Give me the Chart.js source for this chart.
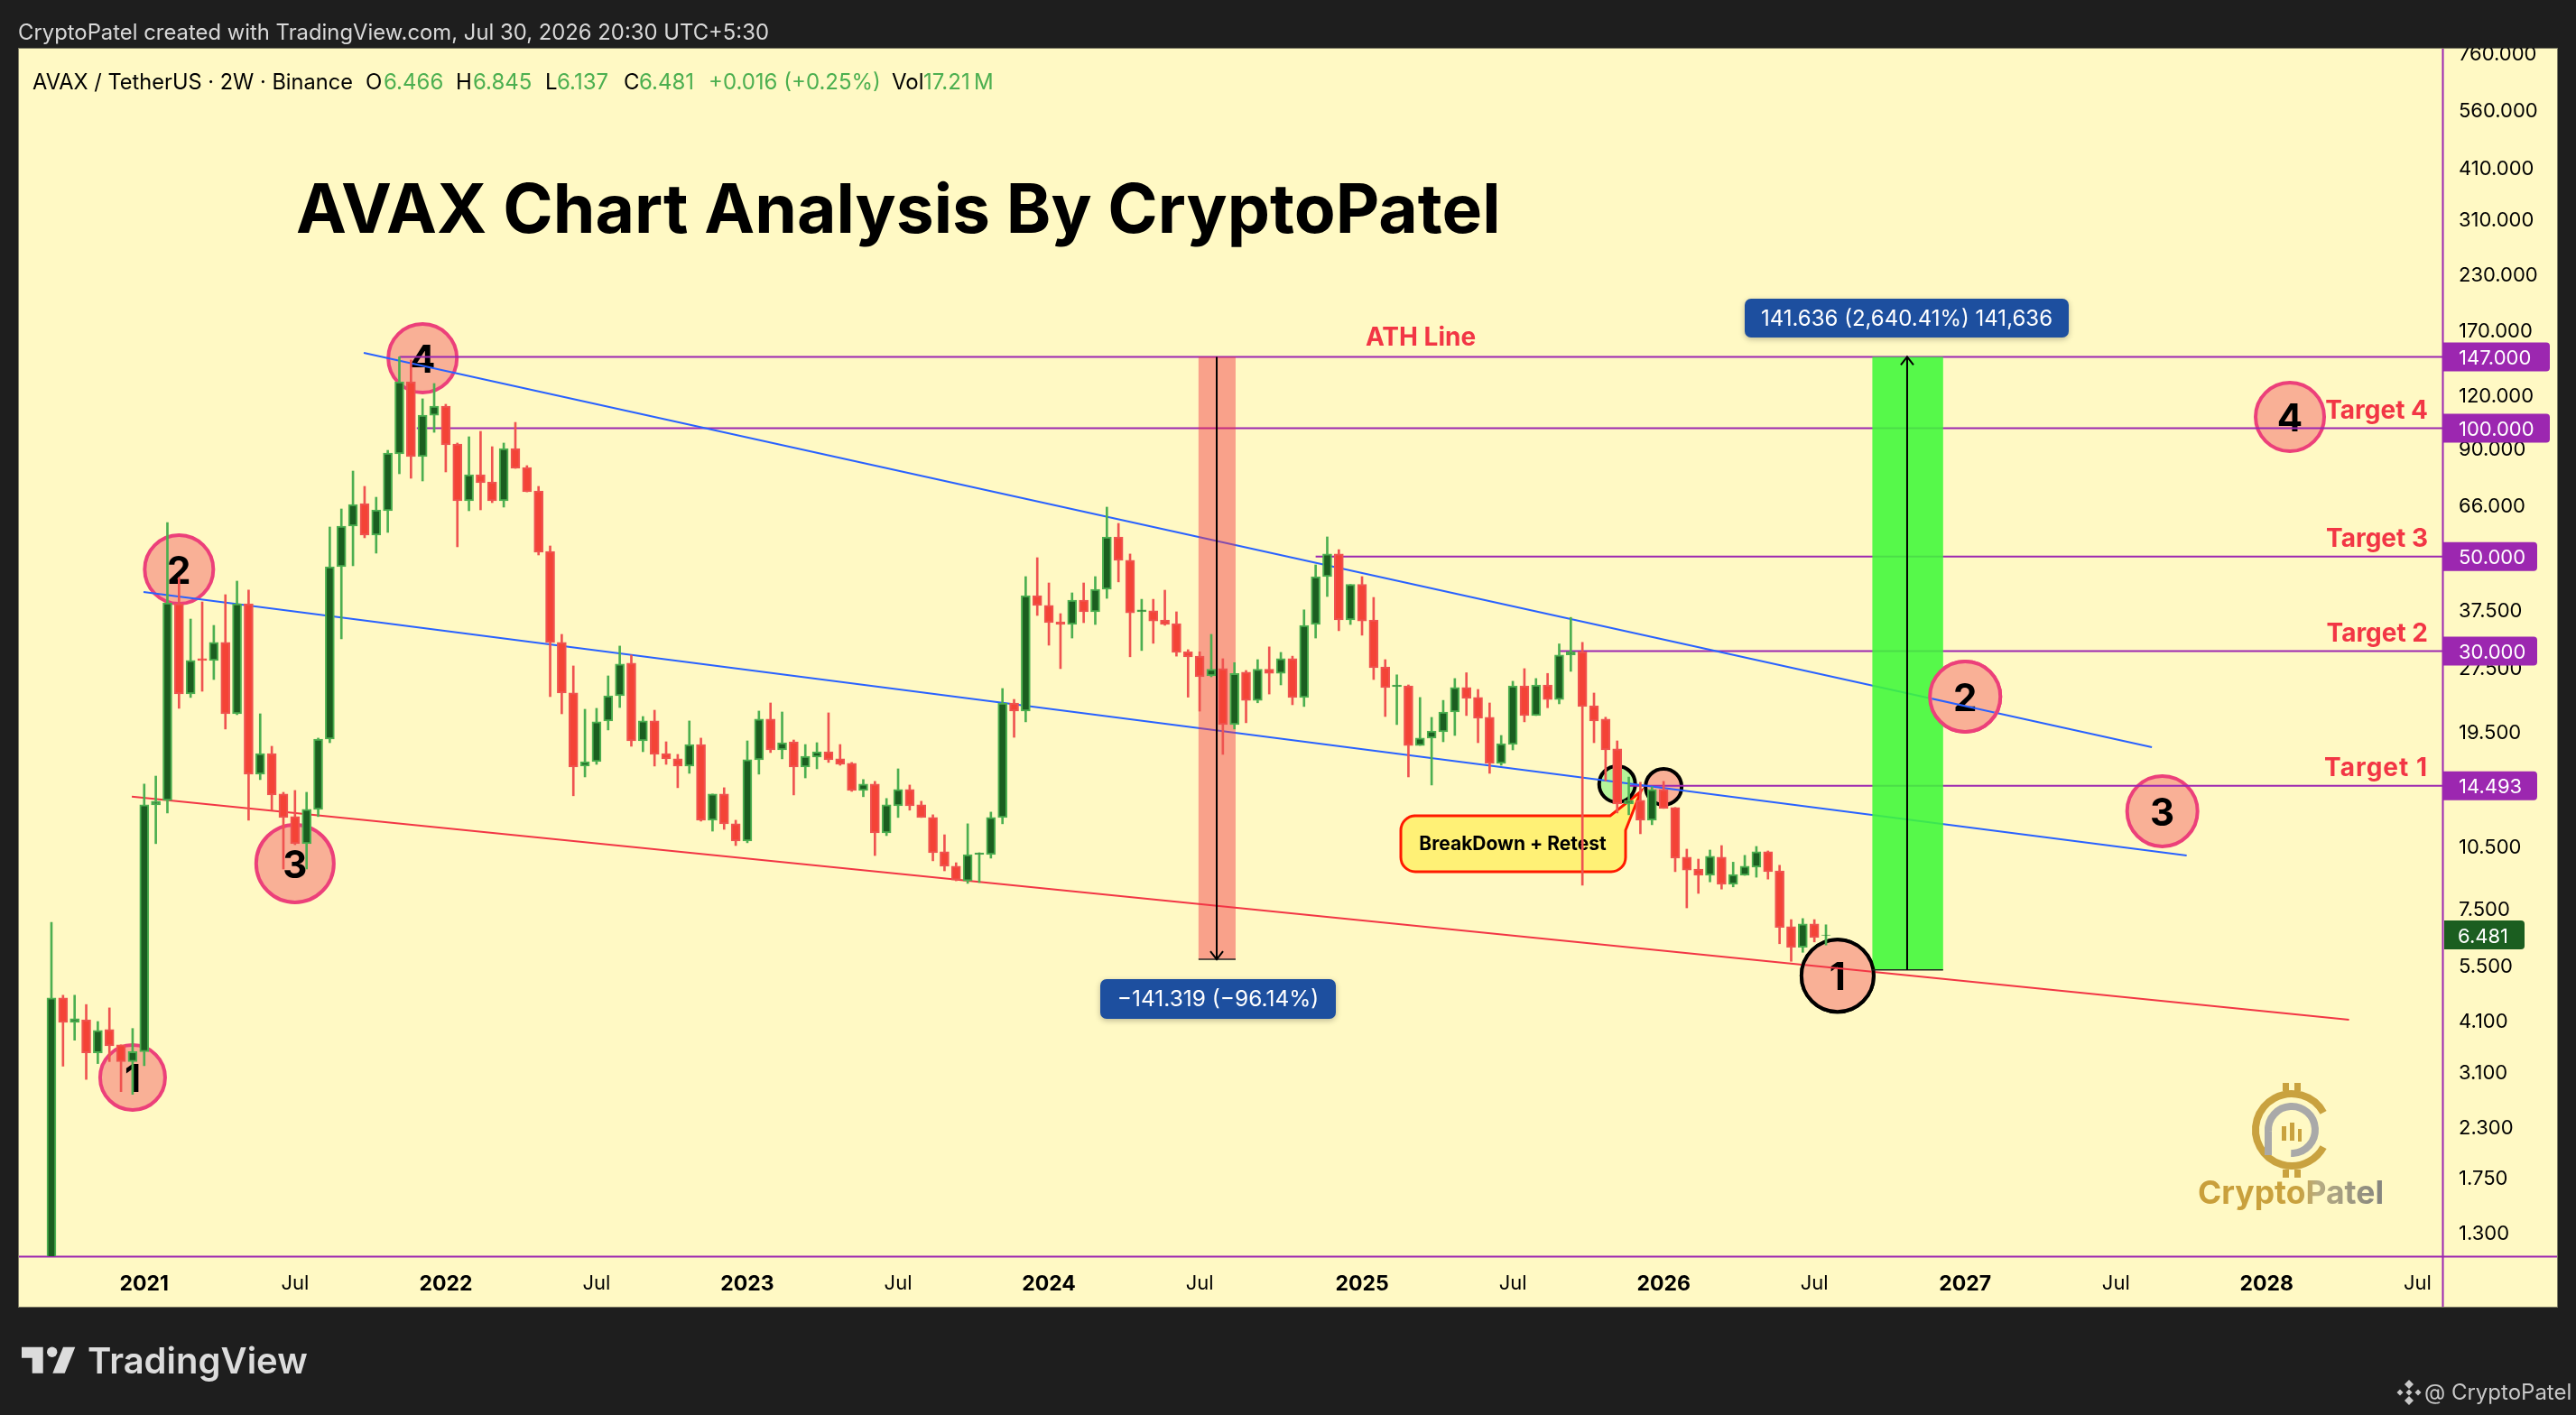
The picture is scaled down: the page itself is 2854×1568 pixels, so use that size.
<!DOCTYPE html>
<html>
<head>
<meta charset="utf-8">
<style>html,body{margin:0;padding:0;background:#1e1e1e}canvas{display:block}</style>
<script src="https://cdn.jsdelivr.net/npm/chart.js@4"></script>
</head>
<body>
<canvas id="c" width="2854" height="1568"></canvas>
<script>
const opens=[1.0,4.61,4.04,4.10,3.43,3.89,3.58,3.27,3.45,13.08,
13.40,38.76,23.81,28.8,28.52,31.44,21.39,38.76,15.44,17.26,
13.87,12.28,10.61,12.77,18.66,47.34,58.94,66.58,56.14,64.03,
87.04,128.5,85.78,107.3,112.7,91.8,67.55,77.81,74.84,67.55,
89.6,80.9,71.28,51.43,31.44,23.93,16.13,16.52,20.58,23.58,
28.11,18.48,20.58,17.26,16.77,16.13,18.12,12.04,13.87,11.81,
10.76,16.69,20.78,17.6,18.39,16.05,16.93,17.43,16.77,16.37,
14.14,14.63,11.24,13.02,14.21,13.08,12.22,10.15,9.39,8.68,
10.0,10.0,12.22,22.68,21.71,40.5,38.4,35.16,34.65,39.5,
37.1,41.9,55.6,49.0,37.1,37.3,35.5,34.8,29.9,29.2,
26.25,27.3,20.18,26.8,23.0,27.2,26.6,28.8,23.36,34.65,
44.87,50.7,35.5,43.0,35.5,27.56,24.76,24.88,18.03,18.76,
19.4,21.6,24.64,23.36,21.0,16.37,18.12,24.88,21.19,25.0,
23.1,29.4,29.9,22.35,20.78,17.69,13.15,13.4,12.04,14.21,
12.9,9.86,9.25,8.94,9.86,8.52,8.94,9.34,10.15,9.16,
6.78,6.06,6.88,6.466];
const highs=[6.94,4.68,4.68,4.45,4.06,4.37,3.58,3.91,14.63,15.28,
60.1,44.65,35.68,39.14,34.48,40.7,43.79,41.71,21.39,17.95,
14.0,14.14,14.0,18.76,58.66,64.66,79.34,73.04,68.88,88.75,
147,144.5,117.2,127.3,113.8,92.3,95.48,98.3,90.5,92.3,
103.2,81.7,73.04,52.95,32.85,27.7,21.92,22.03,26.25,30.84,
29.37,21.08,21.81,18.39,17.18,20.58,18.76,13.87,14.35,12.04,
18.48,21.71,22.68,21.6,18.57,18.12,18.3,21.5,18.12,16.45,
15.0,14.85,13.54,15.89,14.56,13.34,12.4,11.13,9.57,11.81,
10.1,12.58,24.52,23.12,44.87,49.7,43.36,36.74,41.1,43.36,
44.87,65.3,59.81,50.7,39.7,39.7,41.7,37.1,30.24,29.9,
32.85,28.8,28.2,27.03,28.66,30.7,29.8,29.2,37.5,47.8,
55.6,51.9,43.0,44.87,40.1,28.66,26.4,25.0,23.36,20.98,
23.0,25.88,26.7,24.4,22.68,19.03,25.5,27.3,25.88,26.6,
31.2,36.0,31.44,23.93,21.0,18.48,15.2,14.78,14.42,14.85,
12.9,10.3,9.76,10.25,10.5,9.6,9.96,10.45,10.2,9.44,
7.04,7.08,7.04,6.845];
const lows=[1.0,3.19,3.67,2.97,3.235,3.27,2.78,2.74,3.2,10.61,
12.52,22.03,23.36,24.16,25.74,19.7,21.29,12.04,14.99,12.71,
9.25,10.55,9.25,12.28,18.3,32.06,47.57,55.33,50.93,56.97,
78.19,76.31,75.2,97.8,78.96,52.7,64.03,64.34,66.9,65.3,
80.5,70.9,50.43,23.47,21.39,13.74,15.21,16.28,19.6,22.13,
17.95,17.43,16.13,16.28,14.35,15.51,11.98,11.35,11.46,10.5,
10.66,15.44,17.35,16.77,13.8,15.13,15.89,16.45,16.2,14.07,
13.67,9.95,11.08,12.22,12.71,12.22,9.67,9.16,8.68,8.56,
8.6,9.81,11.81,18.84,20.48,36.38,30.98,27.3,32.2,34.99,
34.65,39.9,43.6,29.1,30.1,31.3,34.5,29.2,23.4,21.7,
26.12,17.18,19.7,20.38,22.7,23.8,25.0,22.46,22.25,32.2,
40.3,33.5,34.65,32.7,25.74,21.08,20.18,15.21,18.03,14.56,
18.39,19.03,21.19,18.3,15.51,16.2,17.6,20.48,21.19,22.1,
22.57,26.9,8.48,18.3,14.9,12.52,12.4,11.19,11.75,12.83,
9.12,7.5,8.11,8.63,8.3,8.4,8.94,8.85,8.76,6.18,
5.62,5.9,6.24,6.137];
const closes=[4.61,4.04,4.125,3.43,3.87,3.56,3.27,3.45,13.08,13.34,
38.95,23.81,28.52,28.52,31.44,21.39,38.76,15.44,17.26,13.80,
12.22,10.61,12.77,18.66,47.34,58.94,66.25,56.14,64.34,87.46,
128.5,85.78,107.3,112.7,91.39,67.55,77.81,74.47,67.55,89.6,
80.5,70.93,51.18,31.44,23.93,16.05,16.52,20.48,23.58,27.97,
18.48,20.58,17.18,16.77,16.13,18.12,12.04,13.87,11.81,10.76,
16.69,20.78,17.6,18.3,16.05,17.01,17.43,16.69,16.28,14.14,
14.63,11.24,13.08,14.21,13.02,12.22,10.10,9.39,8.72,10.0,
10.1,12.22,22.68,21.71,40.5,38.4,34.99,34.65,39.5,37.1,
41.9,55.6,49.0,36.9,37.5,35.3,34.65,29.8,29.1,26.12,
27.2,20.18,26.6,23.0,27.2,26.6,28.8,23.36,34.48,44.87,
50.7,35.5,43.0,35.3,27.43,24.64,25.0,18.03,18.76,19.5,
21.6,24.64,23.25,20.87,16.37,18.21,24.88,21.19,25.0,23.1,
29.4,29.9,22.25,20.58,17.6,13.15,13.4,12.04,14.21,12.83,
9.81,9.2,8.94,9.91,8.52,8.98,9.39,10.15,9.12,6.75,
6.06,6.88,6.39,6.481];

const timeTickBars=[8,21,34,47,60,73,86,99,113,126,139,152,165,178,191,204];
const timeTickLabels=['2021','Jul','2022','Jul','2023','Jul','2024','Jul','2025','Jul','2026','Jul','2027','Jul','2028','Jul'];
const priceTicks=[760,560,410,310,230,170,120,90,66,37.5,27.5,19.5,10.5,7.5,5.5,4.1,3.1,2.3,1.75,1.3];

const targetPrices=[147,100,50,30,14.493];
const targetStartBars=[30,31.5,109,130,136];
const lastClose=6.481;

const upperTrend=[[26.93,150.2],[181.1,17.86]];
const middleTrend=[[7.94,41.3],[184.1,9.95]];
const lowerTrend=[[6.93,13.67],[198.1,4.1]];

const dropRange=[[98.9,147],[102.1,147],[102.1,5.681],[98.9,5.681]];
const riseRange=[[157,147],[163.1,147],[163.1,5.364],[157,5.364]];
const dropArrow=[[100.47,147],[100.47,5.681]];
const riseArrow=[[160,5.364],[160,147]];
const dropBase=[[98.9,5.681],[102.1,5.681]];
const riseBase=[[157,5.364],[163.1,5.364]];

const waveLabels=['1','2','3','4','4','2','3','1','',''];
const waveBars=[7,11,21,32,193,165,182,154,135,139];
const wavePrices=[3.0,46.65,9.53,145.9,106.3,23.47,12.64,5.2,14.63,14.42];
const waveRadii=[36,38,43,38,38,39,39,40,20,20];
const waveFills=['#f9b096','#f9b096','#f9b096','#f9b096','#f9b096','#f9b096','#f9b096','#f9b096','#b5f59a','#f9b096'];
const waveStrokes=['#ec407a','#ec407a','#ec407a','#ec407a','#ec407a','#ec407a','#ec407a','#000000','#000000','#000000'];

const bars=opens.map((_,i)=>i);
const UP_W='#4caf50',DN_W='#ef5350',UP_F='#1b5e20',DN_F='#f44336',PURPLE='#9c27b0',RED='#f23645',BLUE='#2962ff';
const isUp=i=>closes[i]>=opens[i];
const pts=a=>a.map(p=>({x:p[0],y:p[1]}));
const lineDs=(data,color,width,order)=>({type:'line',data:pts(data),borderColor:color,borderWidth:width,pointRadius:0,fill:false,tension:0,order});
const X_MAX=206.15;

const datasets=[
 {type:'bar',label:'body',order:1,data:bars.map(i=>({x:i,y:[opens[i],closes[i]]})),
  backgroundColor:bars.map(i=>isUp(i)?UP_F:DN_F),borderColor:bars.map(i=>isUp(i)?UP_W:DN_W),
  borderWidth:2,borderSkipped:false,maxBarThickness:10,grouped:false,barPercentage:1,categoryPercentage:1},
 {type:'bar',label:'wick',order:2,data:bars.map(i=>({x:i,y:[lows[i],highs[i]]})),
  backgroundColor:bars.map(i=>isUp(i)?UP_W:DN_W),borderWidth:0,borderSkipped:false,maxBarThickness:2,grouped:false,barPercentage:1,categoryPercentage:1},
 lineDs(dropArrow,'#000000',2,3),
 lineDs(riseArrow,'#000000',2,3),
 lineDs(dropBase,'#222222',1.5,3),
 lineDs(riseBase,'#222222',1.5,3),
 {type:'line',label:'dropRange',data:pts(dropRange),borderWidth:0,borderColor:'transparent',pointRadius:0,tension:0,fill:'shape',backgroundColor:'rgba(242,54,69,.45)',order:4},
 {type:'line',label:'riseRange',data:pts(riseRange),borderWidth:0,borderColor:'transparent',pointRadius:0,tension:0,fill:'shape',backgroundColor:'rgba(63,248,57,.88)',order:4.5},
 Object.assign(lineDs(upperTrend,BLUE,2,5),{label:'trend'}),
 Object.assign(lineDs(middleTrend,BLUE,2,5),{label:'trend'}),
 Object.assign(lineDs(lowerTrend,RED,2,5),{label:'trend'}),
 ...targetPrices.map((p,k)=>Object.assign(lineDs([[targetStartBars[k],p],[X_MAX,p]],PURPLE,2,5),{label:'trend'}))
];

function rr(ctx,x,y,w,h,r){ctx.beginPath();ctx.roundRect(x,y,w,h,r);}
function txt(ctx,s,x,y,font,color,align){ctx.font=font;ctx.fillStyle=color;ctx.textAlign=align||'left';ctx.textBaseline='middle';ctx.fillText(s,x,y);}
function drawWave(chart,k){
 const ctx=chart.ctx,x=chart.scales.x.getPixelForValue(waveBars[k]),y=chart.scales.y.getPixelForValue(wavePrices[k]);
 ctx.beginPath();ctx.arc(x,y,waveRadii[k],0,Math.PI*2);ctx.fillStyle=waveFills[k];ctx.fill();
 ctx.lineWidth=4;ctx.strokeStyle=waveStrokes[k];ctx.stroke();
 if(waveLabels[k])txt(ctx,waveLabels[k],x,y+3,'700 42px Inter','#000000','center');
 return [x,y];
}

const frame={id:'frame',
 beforeDraw(chart){
  const ctx=chart.ctx;ctx.save();
  ctx.fillStyle='#1e1e1e';ctx.fillRect(0,0,2854,1568);
  ctx.fillStyle='#fff9c4';ctx.fillRect(21,54,2812,1394);
  ctx.strokeStyle='#7c7a63';ctx.lineWidth=1;ctx.strokeRect(20.5,53.5,2813,1395);
  ctx.restore();
 },
 beforeDatasetsDraw(chart){
  const ctx=chart.ctx,Y=chart.scales.y;ctx.save();
  ctx.strokeStyle=PURPLE;ctx.lineWidth=2;
  ctx.beginPath();ctx.moveTo(21,1392.5);ctx.lineTo(2833,1392.5);ctx.moveTo(2706.5,54);ctx.lineTo(2706.5,1448);ctx.stroke();
  txt(ctx,'AVAX Chart Analysis By CryptoPatel',328,235,'700 75px Inter','#000000');
  txt(ctx,'ATH Line',1574,375,'700 28px Inter',RED,'center');
  ctx.beginPath();
  ctx.moveTo(1566,904);ctx.lineTo(1784,904);ctx.lineTo(1818,877);ctx.lineTo(1801,920);
  ctx.lineTo(1801,950);ctx.arcTo(1801,966,1785,966,16);ctx.lineTo(1568,966);ctx.arcTo(1552,966,1552,950,16);
  ctx.lineTo(1552,920);ctx.arcTo(1552,904,1568,904,16);ctx.closePath();
  ctx.fillStyle='#fff176';ctx.fill();ctx.strokeStyle='#ff1a00';ctx.lineWidth=3;ctx.stroke();
  txt(ctx,'BreakDown + Retest',1676,936,'700 21px Inter','#000000','center');
  waveBars.forEach((b,k)=>drawWave(chart,k));
  const tl=['Target 4','Target 3','Target 2','Target 1'],tv=[100,50,30,14.493],ts=['0px','0px','0px','1px'];
  tl.forEach((s,k)=>{ctx.letterSpacing=ts[k];txt(ctx,s,2690,Y.getPixelForValue(tv[k])-19,'700 28px Inter',RED,'right');});
  ctx.letterSpacing='0px';
  const cx=2539,cy=1252;
  ctx.lineCap='butt';
  ctx.strokeStyle='#c9a23f';ctx.lineWidth=8;ctx.beginPath();ctx.arc(cx,cy,40,-0.5,0.5,true);ctx.stroke();
  ctx.fillStyle='#c9a23f';ctx.fillRect(cx-10,cy-52,7,9);ctx.fillRect(cx+3,cy-52,7,9);ctx.fillRect(cx-10,cy+44,7,9);ctx.fillRect(cx+3,cy+44,7,9);
  ctx.strokeStyle='#a9a9a9';ctx.lineWidth=8;ctx.beginPath();ctx.arc(cx,cy,26,-3.2,1.6);ctx.moveTo(cx-26,cy-3);ctx.lineTo(cx-26,cy+28);ctx.stroke();
  ctx.fillStyle='#c9a23f';ctx.fillRect(cx-11,cy-4,5,16);ctx.fillRect(cx-2,cy-8,5,20);ctx.fillRect(cx+7,cy-1,4,14);
  const g=ctx.createLinearGradient(2435,0,2639,0);g.addColorStop(0,'#c99f3a');g.addColorStop(.55,'#c9a23f');g.addColorStop(.65,'#b7ac83');g.addColorStop(1,'#85857f');
  txt(ctx,'CryptoPatel',2435,1323,'700 35.5px Inter',g);
  ctx.restore();
 },
 afterDatasetDraw(chart,args){
  if(chart.data.datasets[args.index].label!=='riseRange')return;
  const ctx=chart.ctx;
  [5,7].forEach(k=>{
   ctx.save();
   const [x,y]=drawWave(chart,k);
   ctx.beginPath();ctx.arc(x,y,waveRadii[k]-2,0,Math.PI*2);ctx.clip();
   chart.data.datasets.forEach((d,i)=>{if(d.label==='trend')chart.getDatasetMeta(i).dataset.draw(ctx,chart.chartArea);});
   ctx.restore();
  });
 },
 afterDatasetsDraw(chart){
  const ctx=chart.ctx,X=chart.scales.x,Y=chart.scales.y;ctx.save();
  ctx.strokeStyle='#000';ctx.lineWidth=2;
  let x=X.getPixelForValue(dropArrow[1][0]),y=Y.getPixelForValue(dropArrow[1][1]);
  ctx.beginPath();ctx.moveTo(x-7,y-9);ctx.lineTo(x,y);ctx.lineTo(x+7,y-9);ctx.stroke();
  x=X.getPixelForValue(riseArrow[1][0]);y=Y.getPixelForValue(riseArrow[1][1]);
  ctx.beginPath();ctx.moveTo(x-7,y+9);ctx.lineTo(x,y);ctx.lineTo(x+7,y+9);ctx.stroke();
  ctx.fillStyle='#1d4f9f';
  ctx.shadowColor='rgba(0,0,0,.25)';ctx.shadowBlur=6;ctx.shadowOffsetY=2;
  rr(ctx,1933,331,359,43,7);ctx.fill();
  rr(ctx,1219,1085,261,44,7);ctx.fill();
  ctx.shadowColor='transparent';ctx.shadowBlur=0;ctx.shadowOffsetY=0;
  txt(ctx,'141.636 (2,640.41%) 141,636',2112.5,354,'400 24px Inter','#ffffff','center');
  txt(ctx,'\u2212141.319 (\u221296.14%)',1349.5,1108,'400 24.5px Inter','#ffffff','center');
  ctx.restore();
 },
 afterDraw(chart){
  const ctx=chart.ctx,Y=chart.scales.y;ctx.save();
  targetPrices.forEach((p,k)=>{
   const y=Y.getPixelForValue(p),w=p>=100?118:104;
   ctx.fillStyle=PURPLE;rr(ctx,2707,y-16,w,32,[0,4,4,0]);ctx.fill();
   txt(ctx,p.toFixed(3),2724,y+2,'400 22px Inter','#ffffff');
  });
  const yc=Y.getPixelForValue(lastClose);
  ctx.fillStyle=UP_F;rr(ctx,2708,yc-16,89,32,[0,4,4,0]);ctx.fill();
  txt(ctx,lastClose.toFixed(3),2723,yc+2,'400 22px Inter','#ffffff');
  ctx.fillStyle='#1e1e1e';ctx.fillRect(0,0,2854,53);
  txt(ctx,'CryptoPatel created with TradingView.com, Jul 30, 2026 20:30 UTC+5:30',20,37,'400 23.85px Inter','#d8d8d8');
  const L='400 24px Inter',G=UP_W,K='#000000',ly=92;
  txt(ctx,'AVAX / TetherUS \u00b7 2W \u00b7 Binance',36,ly,'400 23.6px Inter',K);
  txt(ctx,'O',405,ly,L,K);txt(ctx,'6.466',425,ly,L,G);
  txt(ctx,'H',505,ly,L,K);txt(ctx,'6.845',524,ly,L,G);
  txt(ctx,'L',604,ly,L,K);txt(ctx,'6.137',617,ly,L,G);
  txt(ctx,'C',691,ly,L,K);txt(ctx,'6.481',708,ly,L,G);
  txt(ctx,'+0.016 (+0.25%)',785,ly,L,G);
  txt(ctx,'Vol',988,ly,L,K);txt(ctx,'17.21\u2009M',1023,ly,L,G);
  ctx.fillStyle='#dcdcdc';
  ctx.beginPath();ctx.moveTo(24,1492.7);ctx.lineTo(47.7,1492.7);ctx.lineTo(47.7,1521.7);ctx.lineTo(35.7,1521.7);ctx.lineTo(35.7,1504.7);ctx.lineTo(24,1504.7);ctx.closePath();ctx.fill();
  ctx.beginPath();ctx.arc(57.7,1498.3,5.7,0,Math.PI*2);ctx.fill();
  ctx.beginPath();ctx.moveTo(70,1492.7);ctx.lineTo(83.3,1492.7);ctx.lineTo(71.7,1521.7);ctx.lineTo(58.3,1521.7);ctx.closePath();ctx.fill();
  txt(ctx,'TradingView',97,1510,'600 40px Inter','#dcdcdc');
  const bx=2669,by=1543;ctx.fillStyle='#c8c8c8';
  [[0,-9,5],[0,9,5],[-10,0,3.5],[10,0,3.5],[0,0,3.5]].forEach(d=>{
   ctx.beginPath();ctx.moveTo(bx+d[0],by+d[1]-d[2]);ctx.lineTo(bx+d[0]+d[2],by+d[1]);ctx.lineTo(bx+d[0],by+d[1]+d[2]);ctx.lineTo(bx+d[0]-d[2],by+d[1]);ctx.closePath();ctx.fill();
  });
  txt(ctx,'@ CryptoPatel',2686,1544,'400 24px Inter','#c8c8c8');
  ctx.restore();
 }
};

new Chart(document.getElementById('c'),{
 data:{datasets},
 plugins:[frame],
 options:{
  responsive:false,devicePixelRatio:1,animation:false,
  layout:{padding:{left:21,top:54,right:21,bottom:120}},
  plugins:{legend:{display:false},tooltip:{enabled:false}},
  scales:{
   x:{type:'linear',min:-2.8,max:X_MAX,offset:false,grid:{display:false,drawTicks:false},border:{display:false},
    afterBuildTicks(s){s.ticks=timeTickBars.map(v=>({value:v}));},
    afterFit(s){s.height=56;},
    ticks:{autoSkip:false,maxRotation:0,padding:17,color:'#000000',
     callback:(v)=>{const k=timeTickBars.indexOf(v);return k<0?'':timeTickLabels[k];},
     font:(c)=>{const k=timeTickBars.indexOf(c.tick&&c.tick.value);const yr=k>=0&&timeTickLabels[k]!=='Jul';return {family:'Inter',size:yr?23:22,weight:yr?'700':'400'};}}},
   y:{type:'logarithmic',position:'right',min:1.1434,max:776.2,grid:{display:false,drawTicks:false},border:{display:false},
    afterBuildTicks(s){s.ticks=priceTicks.map(v=>({value:v}));},
    afterFit(s){s.width=127;},
    ticks:{autoSkip:false,padding:18,labelOffset:2,color:'#000000',align:'center',font:{family:'Inter',size:22,weight:'400'},
     callback:(v)=>Number(v).toFixed(3)}}
  }
 }
});
</script>
</body>
</html>
